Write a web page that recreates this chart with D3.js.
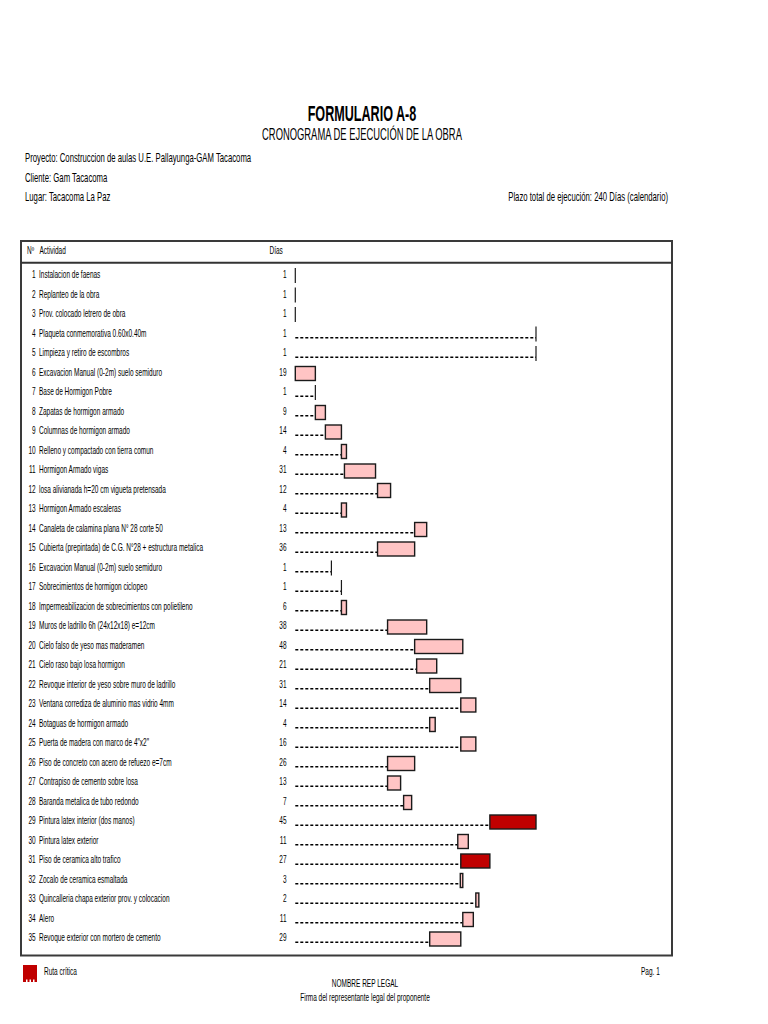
<!DOCTYPE html>
<html><head><meta charset="utf-8">
<script src="https://cdn.jsdelivr.net/npm/d3@7/dist/d3.min.js"></script>
<style>html,body{margin:0;padding:0;background:#fff}svg{display:block}</style>
</head><body>
<script>
const ids = d3.range(1, 36);
const activities = [
"Instalacion de faenas","Replanteo de la obra","Prov. colocado letrero de obra","Plaqueta conmemorativa 0.60x0.40m",
"Limpieza y retiro de escombros","Excavacion Manual (0-2m) suelo semiduro","Base de Hormigon Pobre","Zapatas de hormigon armado",
"Columnas de hormigon armado","Relleno y compactado con tierra comun","Hormigon Armado vigas","losa alivianada h=20 cm vigueta pretensada",
"Hormigon Armado escaleras","Canaleta de calamina plana N° 28 corte 50","Cubierta (prepintada) de C.G. N°28 + estructura metalica",
"Excavacion Manual (0-2m) suelo semiduro","Sobrecimientos de hormigon ciclopeo","Impermeabilizacion de sobrecimientos con polietileno",
"Muros de ladrillo 6h (24x12x18) e=12cm","Cielo falso de yeso mas maderamen","Cielo raso bajo losa hormigon",
"Revoque interior de yeso sobre muro de ladrillo","Ventana corrediza de aluminio mas vidrio 4mm","Botaguas de hormigon armado",
"Puerta de madera con marco de 4\"x2\"","Piso de concreto con acero de refuezo e=7cm","Contrapiso de cemento sobre losa",
"Baranda metalica de tubo redondo","Pintura latex interior (dos manos)","Pintura latex exterior","Piso de ceramica alto trafico",
"Zocalo de ceramica esmaltada","Quincalleria chapa exterior prov. y colocacion","Alero","Revoque exterior con mortero de cemento"];
const dias = [1,1,1,1,1,19,1,9,14,4,31,12,4,13,36,1,1,6,38,48,21,31,14,4,16,26,13,7,45,11,27,3,2,11,29];
const startDay = [0,0,0,240,240,0,20,20,30,46,49,82,46,119,82,36,46,46,92,119,121,134,165,134,165,92,92,108,194,162,165,164.5,180,167,134];
const endDay   = [0,0,0,240,240,20,20,30,46,51,80,95,51,131,119,36,46,51,131,167,141,165,180,139.5,180,119,105,116,240,172.5,194,167,183,177.5,165];
const critical = [29, 31];
const totalDays = 240;

const FONT = "'Liberation Sans', Arial, sans-serif";
const SX = 0.65;

const svg = d3.select("body").append("svg").attr("width", 768).attr("height", 1024);

function txt(x, y, s, o = {}) {
  return svg.append("text")
    .attr("transform", `translate(${x},${y}) scale(${o.sx || SX},1)`)
    .attr("dy", "0.35em")
    .attr("text-anchor", o.anchor || "start")
    .attr("font-family", FONT)
    .attr("font-size", o.size || 10)
    .attr("font-weight", o.weight || "normal")
    .attr("fill", "#000")
    .text(s);
}

// Titles
txt(362, 113, "FORMULARIO A-8", {anchor: "middle", size: 22.5, weight: "bold", sx: 0.56});
txt(362, 134, "CRONOGRAMA DE EJECUCIÓN DE LA OBRA", {anchor: "middle", size: 16.5, sx: 0.57});
txt(25, 158, "Proyecto: Construccion de aulas U.E. Pallayunga-GAM Tacacoma", {size: 12, sx: 0.645});
txt(25, 178, "Cliente: Gam Tacacoma", {size: 12, sx: 0.645});
txt(25, 197, "Lugar: Tacacoma La Paz", {size: 12, sx: 0.645});
txt(668, 197, "Plazo total de ejecución: 240 Días (calendario)", {size: 12, sx: 0.645, anchor: "end"});

// Frame
svg.append("rect").attr("x", 21).attr("y", 241).attr("width", 651).attr("height", 714.5)
  .attr("fill", "none").attr("stroke", "#3a3a3a").attr("stroke-width", 2);
svg.append("line").attr("x1", 21).attr("x2", 672).attr("y1", 262.7).attr("y2", 262.7)
  .attr("stroke", "#333").attr("stroke-width", 2);

txt(27, 250, "Nº");
txt(39.5, 250, "Actividad");
txt(269.5, 250, "Días");

const x = d3.scaleLinear().domain([0, totalDays]).range([295.3, 536]);
const y = d3.scaleLinear().domain([1, 35]).range([274.5, 937.5]);

ids.forEach((id, i) => {
  const ry = y(id);
  txt(35.7, ry, String(id), {anchor: "end"});
  txt(39, ry, activities[i]);
  txt(286.5, ry, String(dias[i]), {anchor: "end"});
});

// Dashed leader lines
svg.append("g").selectAll("line").data(ids.filter((d, i) => startDay[i] > 0)).join("line")
  .attr("x1", x(0)).attr("x2", d => x(startDay[d - 1]))
  .attr("y1", d => y(d) + 4.8).attr("y2", d => y(d) + 4.8)
  .attr("stroke", "#000").attr("stroke-width", 1.5).attr("stroke-dasharray", "3,2");

// Bars
const barData = ids.filter((d, i) => endDay[i] > startDay[i]);
svg.append("g").selectAll("rect").data(barData).join("rect")
  .attr("x", d => x(startDay[d - 1]))
  .attr("width", d => x(endDay[d - 1]) - x(startDay[d - 1]))
  .attr("y", d => y(d) - 5.5).attr("height", 14)
  .attr("fill", d => critical.includes(d) ? "#c00000" : "#ffc4c4")
  .attr("stroke", "#1a1a1a").attr("stroke-width", 1.4);

// Zero-length markers
const msData = ids.filter((d, i) => endDay[i] <= startDay[i]);
svg.append("g").selectAll("line").data(msData).join("line")
  .attr("x1", d => x(startDay[d - 1])).attr("x2", d => x(startDay[d - 1]))
  .attr("y1", d => y(d) - 6.5).attr("y2", d => y(d) + 8.5)
  .attr("stroke", "#1a1a1a").attr("stroke-width", 1.2);

// Footer legend
svg.append("rect").attr("x", 23).attr("y", 965).attr("width", 14).attr("height", 17).attr("fill", "#c00000");
[26, 29.5, 33].forEach(cx => svg.append("rect").attr("x", cx).attr("y", 979.5).attr("width", 1.5).attr("height", 2.5).attr("fill", "#fff"));
txt(44, 971, "Ruta crítica", {size: 10});
txt(641, 971, "Pag. 1", {size: 10});
txt(365, 983, "NOMBRE REP LEGAL", {anchor: "middle", size: 10});
txt(365, 997, "Firma del representante legal del proponente", {anchor: "middle", size: 10});
</script>
</body></html>
